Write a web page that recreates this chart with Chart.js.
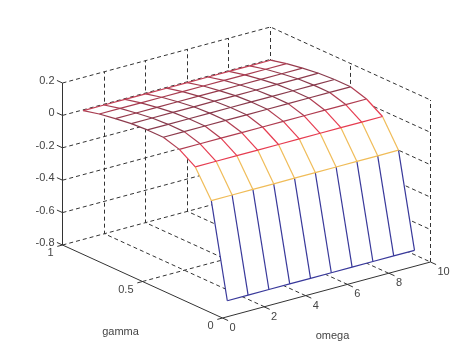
<!DOCTYPE html>
<html>
<head>
<meta charset="utf-8">
<style>
  html, body { margin: 0; padding: 0; background: #fff; }
  canvas { display: block; }
</style>
<script src="https://cdn.jsdelivr.net/npm/chart.js@4"></script>
</head>
<body>
<canvas id="meshChart" width="474" height="356"></canvas>
<script>
// Surface grid
const omegaValues = [1, 2, 3, 4, 5, 6, 7, 8, 9, 10];
const gammaValues = [0.1, 0.2, 0.3, 0.4, 0.5, 0.6, 0.7, 0.8, 0.9, 1];
// height of the surface at each gamma (flat along omega)
const surfaceZ = [-0.773, -0.2, -0.037, 0.026, 0.056, 0.056, 0.05, 0.036, 0.019, -0.005];

// Axis ticks
const omegaTicks = [0, 2, 4, 6, 8, 10];
const gammaTicks = [0, 0.5, 1];
const zTicks = [-0.8, -0.6, -0.4, -0.2, 0, 0.2];
const zTickLabels = ['-0.8', '-0.6', '-0.4', '-0.2', '0', '0.2'];

// Edge colour for each gamma row
const rowColors = ['#38389a', '#f0bc58', '#e63c50', '#b03c50', '#8c3a4c', '#883a4c',
                   '#8c3a4c', '#963a4c', '#a83c50', '#c43e54'];

const GRID_COLOR = '#333';
const AXIS_COLOR = '#333';
const TEXT_COLOR = '#444';

// Fixed orthographic view: where the 3D axes land on the canvas
function project(w, g, z) {
    return {
        x: 222.5 + 20.8 * w - 160 * g,
        y: 318 - 5.6 * w - 73 * g - 162 * (z + 0.8)
    };
}

const zMin = zTicks[0];
const zMax = zTicks[zTicks.length - 1];

function line(points, color, dash, order, width) {
    return {
        data: points.map(p => project(p[0], p[1], p[2])),
        showLine: true,
        borderColor: color,
        borderWidth: width || 1,
        borderDash: dash,
        pointRadius: 0,
        order: order
    };
}

// dashed grid line, x snapped to the pixel so verticals stay crisp
function gridLine(points) {
    const ds = line(points, GRID_COLOR, [4, 3], 4);
    ds.data.forEach(p => { p.x = Math.floor(p.x) + 0.5; });
    return ds;
}

const datasets = [];

// dashed box and grid on the back walls and the floor
zTicks.forEach(z => {
    datasets.push(gridLine([[0, 1, z], [10, 1, z], [10, 0, z]]));
});
omegaTicks.slice(1).forEach(w => {
    const pts = w === 10 ? [[w, 1, zMin], [w, 1, zMax]] : [[w, 0, zMin], [w, 1, zMin], [w, 1, zMax]];
    datasets.push(gridLine(pts));
});
datasets.push(gridLine([[0, 0.5, zMin], [10, 0.5, zMin], [10, 0.5, zMax]]));
datasets.push(gridLine([[10, 0, zMin], [10, 0, zMax]]));

// white sheet so the surface hides the grid behind it
const lastRow = gammaValues.length - 1;
const outline = [];
omegaValues.forEach(w => outline.push([w, gammaValues[0], surfaceZ[0]]));
gammaValues.forEach((g, i) => outline.push([10, g, surfaceZ[i]]));
omegaValues.slice().reverse().forEach(w => outline.push([w, 1, surfaceZ[lastRow]]));
gammaValues.slice().reverse().forEach((g, i) => outline.push([1, g, surfaceZ[lastRow - i]]));
const sheet = line(outline, 'rgba(0,0,0,0)', [], 3);
sheet.fill = 'shape';
sheet.backgroundColor = '#fff';
sheet.borderWidth = 0;
datasets.push(sheet);

// mesh lines, each edge takes the colour of its lower-gamma end
gammaValues.forEach((g, i) => {
    datasets.push(line(omegaValues.map(w => [w, g, surfaceZ[i]]), rowColors[i], [], 2, 1.2));
});
omegaValues.forEach(w => {
    const col = line(gammaValues.map((g, i) => [w, g, surfaceZ[i]]), rowColors[0], [], 2, 1.2);
    col.segment = { borderColor: ctx => rowColors[ctx.p0DataIndex] };
    datasets.push(col);
});

// solid axes and tick marks
datasets.push(line([[0, 1, zMax], [0, 1, zMin], [0, 0, zMin], [10, 0, zMin]], AXIS_COLOR, [], 1));
zTicks.forEach(z => datasets.push(line([[0, 1, z], [0, 1.035, z]], AXIS_COLOR, [], 1)));
gammaTicks.forEach(g => datasets.push(line([[0, g, zMin], [-0.25, g, zMin]], AXIS_COLOR, [], 1)));
omegaTicks.forEach(w => datasets.push(line([[w, 0, zMin], [w, -0.035, zMin]], AXIS_COLOR, [], 1)));

// tick labels and axis titles
const axisText = {
    id: 'axisText',
    afterDraw(chart) {
        const ctx = chart.ctx;
        ctx.save();
        ctx.font = '11px "Liberation Sans", Arial, sans-serif';
        ctx.fillStyle = TEXT_COLOR;
        ctx.textBaseline = 'middle';

        ctx.textAlign = 'right';
        zTicks.forEach((z, i) => {
            const p = project(0, 1, z);
            ctx.fillText(zTickLabels[i], p.x - 8, p.y - 2);
        });
        gammaTicks.forEach(g => {
            const p = project(0, g, zMin);
            ctx.fillText(String(g), p.x - 9, p.y + 8);
        });

        ctx.textAlign = 'left';
        omegaTicks.forEach(w => {
            const p = project(w, 0, zMin);
            ctx.fillText(String(w), p.x + 7, p.y + 10);
        });

        ctx.textAlign = 'center';
        const gammaPos = project(0, 0.5, zMin);
        ctx.fillText('gamma', gammaPos.x - 22, gammaPos.y + 50);
        const omegaPos = project(5, 0, zMin);
        ctx.fillText('omega', omegaPos.x + 6, omegaPos.y + 46);
        ctx.restore();
    }
};

new Chart(document.getElementById('meshChart').getContext('2d'), {
    type: 'scatter',
    data: { datasets: datasets },
    options: {
        responsive: false,
        animation: false,
        layout: { padding: 0 },
        plugins: { legend: { display: false }, tooltip: { enabled: false } },
        scales: {
            x: { type: 'linear', min: 0, max: 474, display: false },
            y: { type: 'linear', min: 0, max: 356, reverse: true, display: false }
        }
    },
    plugins: [axisText]
});
</script>
</body>
</html>
